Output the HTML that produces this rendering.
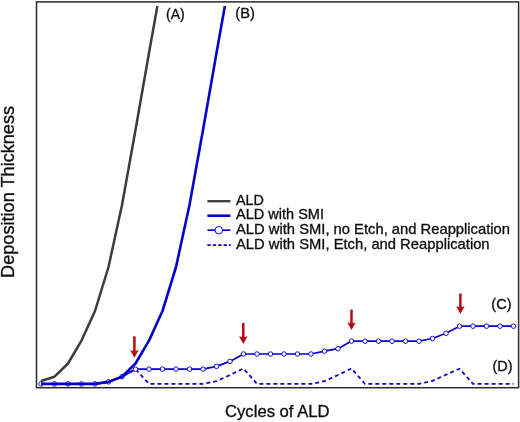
<!DOCTYPE html>
<html><head><meta charset="utf-8"><title>ALD deposition thickness</title>
<style>
html,body{margin:0;padding:0;background:#fff;}
svg{display:block;}
text{font-family:"Liberation Sans",Arial,Helvetica,sans-serif;fill:#0c0c0c;stroke:#0c0c0c;stroke-width:0.3px;}
</style></head>
<body>
<svg width="520" height="422" viewBox="0 0 520 422">
<rect x="0" y="0" width="520" height="422" fill="#fff"/>
<rect x="36.5" y="1.9" width="482.1" height="385.8" fill="none" stroke="#2a2a2a" stroke-width="1.5"/>
<polyline points="41.0,383.9 54.5,383.9 68.0,383.9 81.5,383.9 95.0,383.9 108.5,381.9 122.0,376.7 135.5,369.2 149.0,383.9 162.5,383.9 176.0,383.9 189.5,383.9 203.0,383.9 216.5,381.2 230.0,375.0 243.5,368.5 257.0,383.9 270.5,383.9 284.0,383.9 297.5,383.9 311.0,383.9 324.5,381.2 338.0,375.0 351.5,368.5 365.0,383.9 378.5,383.9 392.0,383.9 405.5,383.9 419.0,383.9 432.5,380.9 446.0,374.8 459.5,368.8 473.0,383.9 486.5,383.9 500.0,383.9 513.5,383.9" fill="none" stroke="#0A00C8" stroke-width="1.75" stroke-dasharray="3.9 3.1"/>
<polyline points="41.0,383.9 54.5,383.9 68.0,383.9 81.5,383.9 95.0,383.9 108.5,381.9 122.0,376.7 135.5,369.2 149.0,369.1 162.5,369.1 176.0,369.1 189.5,369.1 203.0,369.1 216.5,366.4 230.0,361.4 243.5,354.0 257.0,354.0 270.5,354.0 284.0,354.0 297.5,354.0 311.0,354.0 324.5,351.2 338.0,348.7 351.5,341.1 365.0,341.2 378.5,341.2 392.0,341.2 405.5,341.2 419.0,341.2 432.5,338.5 446.0,333.3 459.5,326.2 473.0,326.2 486.5,326.2 500.0,326.2 513.5,326.2" fill="none" stroke="#0A00D0" stroke-width="1.7" stroke-linejoin="round"/>
<g fill="#fff" stroke="#0A00D0" stroke-width="0.95"><circle cx="41.0" cy="383.9" r="2.25"/><circle cx="54.5" cy="383.9" r="2.25"/><circle cx="68.0" cy="383.9" r="2.25"/><circle cx="81.5" cy="383.9" r="2.25"/><circle cx="95.0" cy="383.9" r="2.25"/><circle cx="108.5" cy="381.9" r="2.25"/><circle cx="122.0" cy="376.7" r="2.25"/><circle cx="135.5" cy="369.2" r="2.25"/><circle cx="149.0" cy="369.1" r="2.25"/><circle cx="162.5" cy="369.1" r="2.25"/><circle cx="176.0" cy="369.1" r="2.25"/><circle cx="189.5" cy="369.1" r="2.25"/><circle cx="203.0" cy="369.1" r="2.25"/><circle cx="216.5" cy="366.4" r="2.25"/><circle cx="230.0" cy="361.4" r="2.25"/><circle cx="243.5" cy="354.0" r="2.25"/><circle cx="257.0" cy="354.0" r="2.25"/><circle cx="270.5" cy="354.0" r="2.25"/><circle cx="284.0" cy="354.0" r="2.25"/><circle cx="297.5" cy="354.0" r="2.25"/><circle cx="311.0" cy="354.0" r="2.25"/><circle cx="324.5" cy="351.2" r="2.25"/><circle cx="338.0" cy="348.7" r="2.25"/><circle cx="351.5" cy="341.1" r="2.25"/><circle cx="365.0" cy="341.2" r="2.25"/><circle cx="378.5" cy="341.2" r="2.25"/><circle cx="392.0" cy="341.2" r="2.25"/><circle cx="405.5" cy="341.2" r="2.25"/><circle cx="419.0" cy="341.2" r="2.25"/><circle cx="432.5" cy="338.5" r="2.25"/><circle cx="446.0" cy="333.3" r="2.25"/><circle cx="459.5" cy="326.2" r="2.25"/><circle cx="473.0" cy="326.2" r="2.25"/><circle cx="486.5" cy="326.2" r="2.25"/><circle cx="500.0" cy="326.2" r="2.25"/><circle cx="513.5" cy="326.2" r="2.25"/></g>
<polyline points="41.0,383.9 54.5,383.9 68.0,383.9 81.5,383.9 95.0,383.9 108.5,381.9 122.0,376.7 135.5,363.5 149.0,340.6 162.5,311.0 176.0,267.0 189.5,205.0 203.0,130.0 216.5,53.0 224.9,6.0" fill="none" stroke="#0700CC" stroke-width="2.6" stroke-linejoin="round"/>
<polyline points="41.0,381.0 54.5,376.7 68.0,363.5 81.5,340.6 95.0,311.0 108.5,267.0 122.0,205.0 135.5,130.0 149.0,53.0 157.4,6.0" fill="none" stroke="#3C3C3C" stroke-width="2.5" stroke-linejoin="round"/>
<line x1="134.4" y1="336.3" x2="134.4" y2="352.7" stroke="#B80A14" stroke-width="2.5"/><polygon points="134.4,357.7 130.15,349.9 134.4,351.3 138.65,349.9" fill="#B80A14"/><line x1="243.3" y1="323.0" x2="243.3" y2="339.0" stroke="#B80A14" stroke-width="2.5"/><polygon points="243.3,344.0 239.05,336.2 243.3,337.6 247.55,336.2" fill="#B80A14"/><line x1="351.5" y1="309.6" x2="351.5" y2="325.1" stroke="#B80A14" stroke-width="2.5"/><polygon points="351.5,330.1 347.25,322.3 351.5,323.70000000000005 355.75,322.3" fill="#B80A14"/><line x1="460.4" y1="293.5" x2="460.4" y2="309.0" stroke="#B80A14" stroke-width="2.5"/><polygon points="460.4,314.0 456.15,306.2 460.4,307.6 464.65,306.2" fill="#B80A14"/>
<g>
<line x1="207.4" y1="201.2" x2="230.4" y2="201.2" stroke="#3C3C3C" stroke-width="2.3"/>
<line x1="207.4" y1="215.7" x2="230.4" y2="215.7" stroke="#0700CC" stroke-width="2.6"/>
<line x1="207.4" y1="230.2" x2="230.4" y2="230.2" stroke="#0A00D0" stroke-width="1.7"/>
<circle cx="218.8" cy="230.2" r="3.75" fill="#fff" stroke="#0A00D0" stroke-width="1"/>
<line x1="207.4" y1="245.1" x2="230.8" y2="245.1" stroke="#0A00C8" stroke-width="1.9" stroke-dasharray="3.3 2.1"/>
</g>
<g font-size="14.1">
<text x="236" y="204.9" textLength="27.9" lengthAdjust="spacingAndGlyphs">ALD</text>
<text x="236" y="219.3" textLength="88" lengthAdjust="spacingAndGlyphs">ALD with SMI</text>
<text x="236" y="233.8" textLength="274" lengthAdjust="spacingAndGlyphs">ALD with SMI, no Etch, and Reapplication</text>
<text x="236" y="248.6" textLength="253.6" lengthAdjust="spacingAndGlyphs">ALD with SMI, Etch, and Reapplication</text>
</g>
<g font-size="14.3">
<text x="166.0" y="18.7" textLength="18.8" lengthAdjust="spacingAndGlyphs">(A)</text>
<text x="235.3" y="17.9" textLength="19.5" lengthAdjust="spacingAndGlyphs">(B)</text>
<text x="491.3" y="309.1" textLength="20.2" lengthAdjust="spacingAndGlyphs">(C)</text>
<text x="492.4" y="371.3" textLength="20.1" lengthAdjust="spacingAndGlyphs">(D)</text>
</g>
<text x="225" y="416.9" font-size="15.9" textLength="104.6" lengthAdjust="spacingAndGlyphs">Cycles of ALD</text>
<text transform="translate(14.4 277.9) rotate(-90)" font-size="18" stroke-width="0.05" textLength="172" lengthAdjust="spacingAndGlyphs">Deposition Thickness</text>
</svg>
</body></html>
